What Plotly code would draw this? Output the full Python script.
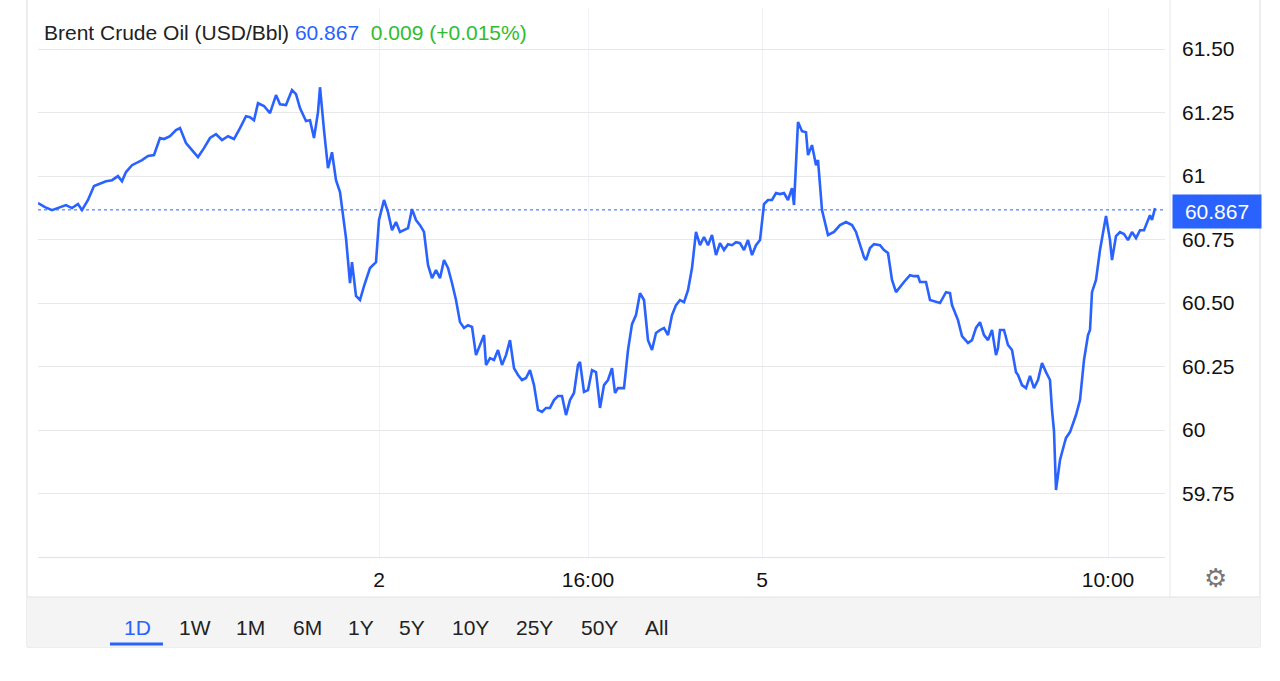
import plotly.graph_objects as go

# session time index (minutes-ish, irregular sessions) and Brent price
t = [0, 7, 14, 22, 28, 34, 40, 44, 50, 56, 62, 68, 74, 80, 84, 88, 94, 98, 104, 110,
     116, 122, 126, 132, 138, 142, 148, 154, 160, 166, 172, 178, 184, 190, 196, 202, 208, 212, 216, 220,
     226, 232, 238, 242, 248, 254, 258, 262, 268, 272, 276, 280, 282, 286, 290, 294, 298, 302, 308, 312,
     314, 318, 322, 326, 332, 338, 341, 346, 350, 354, 358, 362, 366, 370, 374, 378, 382, 386, 390, 394,
     398, 402, 406, 410, 414, 418, 422, 426, 430, 434, 438, 442, 446, 448, 452, 456, 460, 464, 468, 472,
     476, 480, 484, 488, 492, 496, 500, 504, 508, 512, 516, 520, 524, 528, 532, 536, 540, 542, 546, 550,
     554, 558, 562, 566, 570, 574, 577, 580, 586, 590, 594, 598, 602, 606, 610, 614, 618, 622, 626, 630,
     634, 638, 642, 646, 650, 654, 658, 662, 666, 670, 674, 678, 682, 686, 690, 694, 698, 702, 706, 710,
     714, 718, 722, 726, 730, 734, 738, 742, 746, 750, 754, 756, 760, 764, 768, 770, 774, 778, 780, 784,
     790, 796, 802, 808, 814, 818, 822, 826, 828, 832, 836, 842, 846, 850, 854, 858, 866, 872, 876, 880,
     882, 888, 892, 898, 902, 908, 912, 914, 920, 924, 930, 934, 938, 942, 946, 950, 954, 958, 960, 962,
     966, 970, 974, 978, 980, 984, 988, 992, 996, 1000, 1004, 1008, 1012, 1014, 1016, 1018, 1022, 1026, 1028, 1032,
     1036, 1038, 1042, 1046, 1050, 1052, 1054, 1058, 1062, 1066, 1068, 1072, 1074, 1078, 1082, 1086, 1090, 1094, 1098, 1102,
     1106, 1108, 1112, 1114, 1117]
price = [60.894, 60.878, 60.866, 60.878, 60.886, 60.874, 60.890, 60.866, 60.906, 60.961, 60.969, 60.980, 60.984, 61.000, 60.980, 61.016, 61.043, 61.051, 61.063, 61.079,
         61.083, 61.150, 61.146, 61.157, 61.181, 61.189, 61.130, 61.102, 61.075, 61.110, 61.150, 61.165, 61.142, 61.157, 61.146, 61.189, 61.236, 61.232, 61.220, 61.287,
         61.276, 61.248, 61.319, 61.283, 61.280, 61.339, 61.323, 61.268, 61.217, 61.220, 61.150, 61.252, 61.350, 61.181, 61.031, 61.094, 60.984, 60.937, 60.756, 60.579,
         60.661, 60.528, 60.512, 60.567, 60.638, 60.661, 60.827, 60.906, 60.858, 60.787, 60.819, 60.780, 60.787, 60.795, 60.870, 60.827, 60.807, 60.780, 60.650, 60.598,
         60.630, 60.598, 60.669, 60.638, 60.579, 60.512, 60.425, 60.402, 60.413, 60.406, 60.295, 60.335, 60.374, 60.256, 60.283, 60.276, 60.315, 60.256, 60.295, 60.354,
         60.244, 60.217, 60.197, 60.205, 60.236, 60.177, 60.079, 60.071, 60.087, 60.087, 60.118, 60.134, 60.134, 60.059, 60.118, 60.146, 60.256, 60.268, 60.150, 60.157,
         60.236, 60.228, 60.087, 60.177, 60.197, 60.244, 60.146, 60.165, 60.165, 60.315, 60.417, 60.453, 60.539, 60.512, 60.354, 60.315, 60.382, 60.394, 60.402, 60.374,
         60.453, 60.492, 60.512, 60.504, 60.551, 60.638, 60.780, 60.728, 60.760, 60.728, 60.768, 60.689, 60.736, 60.709, 60.732, 60.728, 60.740, 60.736, 60.709, 60.748,
         60.689, 60.728, 60.748, 60.890, 60.906, 60.906, 60.933, 60.929, 60.933, 60.906, 60.953, 60.886, 61.213, 61.177, 61.173, 61.083, 61.122, 61.043, 61.063, 60.866,
         60.768, 60.780, 60.807, 60.819, 60.807, 60.780, 60.728, 60.681, 60.669, 60.717, 60.732, 60.728, 60.709, 60.697, 60.591, 60.543, 60.583, 60.610, 60.606, 60.606,
         60.583, 60.583, 60.512, 60.504, 60.500, 60.543, 60.539, 60.492, 60.433, 60.370, 60.343, 60.354, 60.402, 60.425, 60.374, 60.354, 60.394, 60.295, 60.323, 60.394,
         60.394, 60.335, 60.315, 60.228, 60.217, 60.177, 60.165, 60.213, 60.165, 60.197, 60.264, 60.228, 60.197, 60.079, 59.996, 59.764, 59.882, 59.941, 59.969, 59.992,
         60.039, 60.059, 60.118, 60.276, 60.374, 60.394, 60.543, 60.591, 60.709, 60.807, 60.843, 60.748, 60.669, 60.764, 60.780, 60.772, 60.748, 60.780, 60.756, 60.787,
         60.787, 60.807, 60.846, 60.827, 60.874]

last_price = 60.867
change_text = "0.009 (+0.015%)"

tick_pos = [341, 550, 724, 1070]
tick_lbl = ["2", "16:00", "5", "10:00"]
y_ticks = [59.75, 60, 60.25, 60.5, 60.75, 61, 61.25, 61.5]
y_lbls = ["59.75", "60", "60.25", "60.50", "60.75", "61", "61.25", "61.50"]
ranges = ["1D", "1W", "1M", "6M", "1Y", "5Y", "10Y", "25Y", "50Y", "All"]
range_x = [122, 177, 234, 291, 346, 397, 470, 534, 599, 656]

BLUE = "#2962ff"
FONT = "Liberation Sans, Arial, sans-serif"

# plot area in pixels: x 38..1165, y 8..557
L, R, T, B = 38, 1165, 8, 557
W, H = 1280, 681
def px(x): return (x - L) / (R - L)
def py(y): return (B - y) / (B - T)

fig = go.Figure()
fig.add_trace(go.Scatter(x=t, y=price, mode="lines",
                         line=dict(color=BLUE, width=2.6), hoverinfo="x+y"))

shapes = [
    # card border
    dict(type="rect", xref="paper", yref="paper", x0=px(27), x1=px(1260), y0=py(647), y1=py(-2),
         line=dict(color="#dcdcdc", width=1), fillcolor="rgba(0,0,0,0)", layer="below"),
    # bottom range bar
    dict(type="rect", xref="paper", yref="paper", x0=px(27), x1=px(1260), y0=py(647), y1=py(597),
         line=dict(width=0), fillcolor="#f4f4f4", layer="below"),
    dict(type="line", xref="paper", yref="paper", x0=px(27), x1=px(1260), y0=py(597), y1=py(597),
         line=dict(color="#e2e2e2", width=1)),
    # separator to axis column
    dict(type="line", xref="paper", yref="paper", x0=px(1170), x1=px(1170), y0=py(597), y1=py(0),
         line=dict(color="#e8e8e8", width=1)),
    # selected range underline
    dict(type="line", xref="paper", yref="paper", x0=px(110), x1=px(163), y0=py(644), y1=py(644),
         line=dict(color=BLUE, width=3)),
    # last price dotted line
    dict(type="line", xref="paper", yref="y", x0=0, x1=1, y0=last_price, y1=last_price,
         line=dict(color=BLUE, width=1, dash="dot")),
]

ann = [
    dict(xref="paper", yref="paper", x=px(42), y=py(32), xanchor="left", yanchor="middle", showarrow=False,
         text=f"<span style='color:#222'>Brent Crude Oil (USD/Bbl)</span> <span style='color:{BLUE}'>{last_price}</span>"
              f"  <span style='color:#2ebd2e'>{change_text}</span>",
         font=dict(family=FONT, size=21)),
    dict(xref="paper", yref="paper", x=px(1172), y=py(211), xanchor="left", yanchor="middle",
         showarrow=False, text=f"{last_price}", bgcolor=BLUE, borderpad=5, width=78,
         font=dict(family=FONT, size=21, color="white")),
    dict(xref="paper", yref="paper", x=px(1229), y=py(595), showarrow=False, text="⚙",
         font=dict(family="DejaVu Sans", size=26, color="#777")),
]
for lbl, xx in zip(ranges, range_x):
    ann.append(dict(xref="paper", yref="paper", x=px(xx), y=py(641), showarrow=False, text=lbl,
                    font=dict(family=FONT, size=21, color=BLUE if lbl == "1D" else "#222")))

fig.update_layout(
    width=W, height=H, margin=dict(l=L, r=W - R, t=T, b=H - B),
    paper_bgcolor="white", plot_bgcolor="white", showlegend=False,
    font=dict(family=FONT, color="#111"),
    xaxis=dict(range=[0, R - L], tickvals=tick_pos, ticktext=tick_lbl, showgrid=True,
               gridcolor="#eef2f7", gridwidth=1, zeroline=False, showline=True,
               linecolor="#e2e2e2", ticks="", tickfont=dict(size=21), ticklabelstandoff=4),
    yaxis=dict(range=[59.5, 61.662], side="right", tickvals=y_ticks, ticktext=y_lbls,
               showgrid=True, gridcolor="#e8e8e8", zeroline=False, ticks="",
               tickfont=dict(size=21), ticklabelstandoff=16),
    shapes=shapes, annotations=ann,
)

fig.write_html("out.html", post_script="document.body.style.margin='0';",
               config={"displayModeBar": False})
